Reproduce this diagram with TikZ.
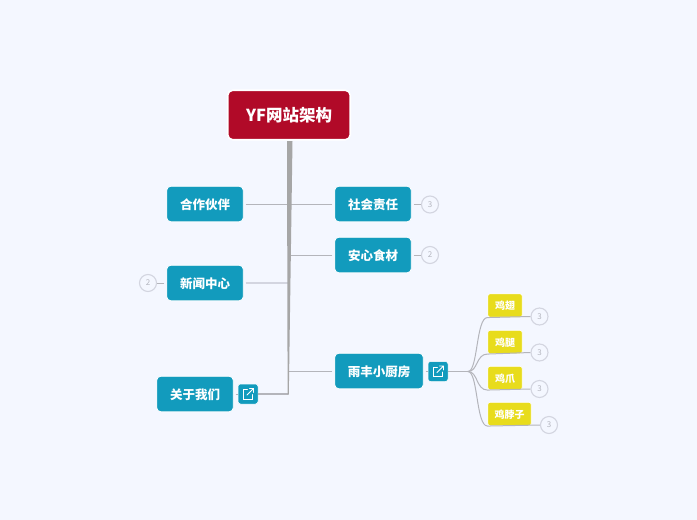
\documentclass[tikz,border=0pt]{standalone}
\usepackage{fontspec}
\setmainfont{Noto Sans CJK SC}
\definecolor{bgcol}{HTML}{F4F7FF}
\definecolor{rootcol}{HTML}{B10A28}
\definecolor{topiccol}{HTML}{129BBD}
\definecolor{leafcol}{HTML}{E8DC1C}
\definecolor{linecol}{HTML}{B4B5BB}
\definecolor{trunkcol}{HTML}{A6A6A6}
\definecolor{countcol}{HTML}{D3D5E0}
\tikzset{
	rootbox/.style={draw=white,line width=1.6pt,fill=rootcol,rounded corners=5pt,text=white,font=\fontsize{16.5}{18}\selectfont\bfseries,minimum width=122.5pt,minimum height=49.5pt,inner sep=0pt,text height=15pt,text depth=2pt},
	topicbox/.style={draw=white,line width=0.8pt,fill=topiccol,rounded corners=4pt,text=white,font=\fontsize{12.5}{14}\selectfont\bfseries,minimum height=35.5pt,inner sep=0pt,text height=12.4pt,text depth=1.5pt},
	leafbox/.style={draw=white,line width=0.6pt,fill=leafcol,rounded corners=2.5pt,text=white,font=\fontsize{10}{12}\selectfont\bfseries,minimum height=23.5pt,inner sep=0pt,text height=9.8pt,text depth=1.2pt},
	countdot/.style={circle,draw=countcol,line width=1.1pt,fill=bgcol,text=countcol!85!black,font=\fontsize{8}{9}\selectfont,minimum size=17pt,inner sep=0pt},
	iconbox/.style={draw=white,line width=0.5pt,fill=topiccol,rounded corners=2.5pt,minimum size=20pt,inner sep=0pt},
	branch/.style={draw=linecol,line width=1pt},
	twig/.style={draw=linecol,line width=1pt},
}
\begin{document}
\begin{tikzpicture}[x=1pt,y=-1pt]
	\useasboundingbox[fill=bgcol] (0,0) rectangle (697,520);

	\coordinate (trunkA) at (289,204.5);
	\coordinate (trunkB) at (288.8,255.5);
	\coordinate (trunkC) at (288.5,283);
	\coordinate (trunkD) at (288.2,371.5);
	\coordinate (trunkend) at (288.2,394);
	\coordinate (hub) at (468,371.5);

	\node[rootbox] (root) at (289,115) {YF网站架构};
	\node[topicbox,minimum width=76.5pt] (partner) at (205,204) {合作伙伴};
	\node[topicbox,minimum width=76.5pt] (news) at (205,283) {新闻中心};
	\node[topicbox,minimum width=76.5pt] (about) at (195,394) {关于我们};
	\node[topicbox,minimum width=76.5pt] (duty) at (373,204) {社会责任};
	\node[topicbox,minimum width=76.5pt] (food) at (373,255) {安心食材};
	\node[topicbox,minimum width=88.5pt] (kitchen) at (379,371) {雨丰小厨房};

	\node[iconbox] (aboutlink) at (248,394) {};
	\node[iconbox] (kitchenlink) at (438,371.5) {};

	\node[leafbox,minimum width=34.5pt] (wing) at (505,305.5) {鸡翅};
	\node[leafbox,minimum width=34.5pt] (leg) at (505,342) {鸡腿};
	\node[leafbox,minimum width=34.5pt] (claw) at (505,378) {鸡爪};
	\node[leafbox,minimum width=43.5pt] (neck) at (509.5,414) {鸡脖子};

	\node[countdot] (dutycount) at (430,204.5) {3};
	\node[countdot] (foodcount) at (430,255) {2};
	\node[countdot] (newscount) at (148,283) {2};
	\node[countdot] (wingcount) at (539.5,316.5) {3};
	\node[countdot] (legcount) at (539.5,352.5) {3};
	\node[countdot] (clawcount) at (539.5,389) {3};
	\node[countdot] (neckcount) at (549,425) {3};

	\draw[branch] (partner.east) ++(2,0.5) -- (trunkA);
	\draw[branch] (duty.west) ++(-2,0.5) -- (trunkA);
	\draw[branch] (food.west) ++(-2,0.5) -- (trunkB);
	\draw[branch,draw=countcol,line width=1.2pt] (news.east) ++(2,0) -- (trunkC);
	\draw[branch] (kitchen.west) ++(-2,0.5) -- (trunkD);
	\draw[branch,line width=1.2pt] (aboutlink.east) -- (trunkend);
	\draw[branch] (about.east) ++(2,0) -- (aboutlink.west);
	\draw[branch] (kitchen.east) ++(2,0.5) -- (kitchenlink.west);
	\draw[branch] (duty.east) ++(2,0.5) -- (dutycount.west);
	\draw[branch] (food.east) ++(2,0) -- (foodcount.west);
	\draw[branch] (news.west) ++(-2,0) -- (newscount.east);
	\draw[branch,line width=1.4pt] (kitchenlink.east) -- (hub);

	\fill[trunkcol] (287,141) -- (292.5,141) -- (288.8,394.5) -- (287.6,394.5) -- cycle;

	\foreach \leaf/\cnt in {wing/wingcount,leg/legcount,claw/clawcount,neck/neckcount}{
		\draw[twig] (hub) .. controls (478,371.5) and (476,0|-\leaf.south) .. (\leaf.south west) -- (\cnt.west);
	}

	\foreach \link in {aboutlink,kitchenlink}{
		\draw[white,line width=0.9pt,line cap=round,shift={(\link)}] (-0.5,-4.5) -- (-5,-4.5) -- (-5,5) -- (4.5,5) -- (4.5,0.5);
		\draw[white,line width=0.9pt,line cap=round,shift={(\link)}] (-1,1) -- (5.5,-5.5) (1.5,-5.5) -- (5.5,-5.5) -- (5.5,-1.5);
	}
\end{tikzpicture}
\end{document}
